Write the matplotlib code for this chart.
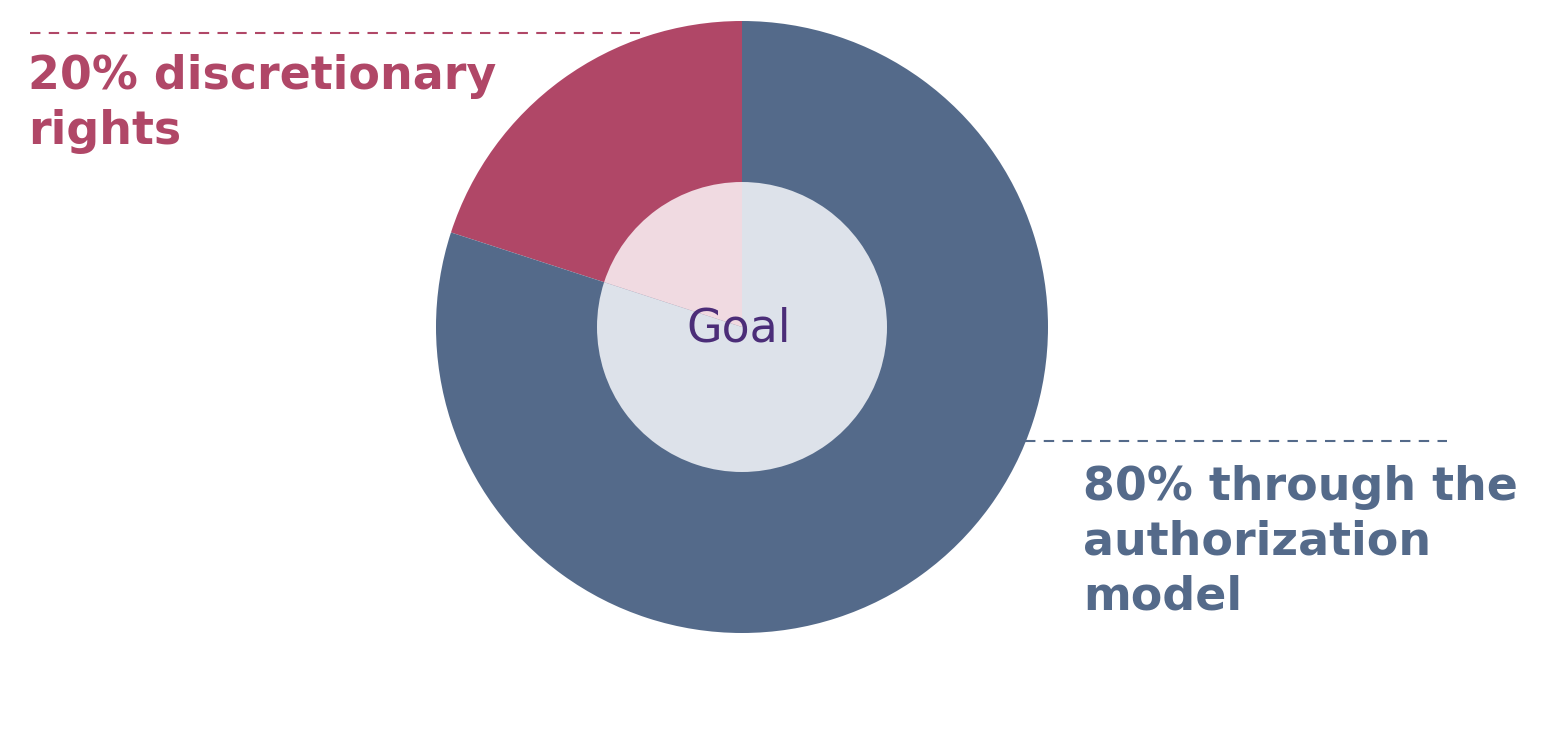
import matplotlib
matplotlib.use("Agg")
import matplotlib.pyplot as plt

# data
shares = [20, 80]
labels = ["20% discretionary\nrights", "80% through the\nauthorization\nmodel"]
outer_colors = ["#b04767", "#546a8a"]
inner_colors = ["#f0dae1", "#dde2ea"]
center_text = "Goal"

W, H = 1567, 746
fig = plt.figure(figsize=(W / 100, H / 100), dpi=100)
ax = fig.add_axes([0, 0, 1, 1])

cx, cy = 742, H - 327

# outer ring (full pie underneath) and lighter inner pie
ax.pie(shares, colors=outer_colors, startangle=90, counterclock=True,
       radius=306, center=(cx, cy), frame=True,
       wedgeprops=dict(linewidth=0))
ax.pie(shares, colors=inner_colors, startangle=90, counterclock=True,
       radius=145, center=(cx, cy), frame=True,
       wedgeprops=dict(linewidth=0))
ax.set_xlim(0, W)
ax.set_ylim(0, H)
ax.set_aspect("equal")
ax.axis("off")

ax.text(cx - 3, cy - 2, center_text, ha="center", va="center",
        fontsize=33, color="#4b2d78")

# callouts
ax.plot([30, 640], [H - 33, H - 33], ls=(0, (5, 4)), lw=1.5, color=outer_colors[0])
ax.text(28, H - 54, labels[0], ha="left", va="top", fontsize=33,
        fontweight="bold", color=outer_colors[0], linespacing=1.28)

ax.plot([1025, 1447], [H - 441, H - 441], ls=(0, (5, 4)), lw=1.5, color=outer_colors[1])
ax.text(1083, H - 465, labels[1], ha="left", va="top", fontsize=33,
        fontweight="bold", color=outer_colors[1], linespacing=1.28)

fig.savefig("out.png", dpi=100)
